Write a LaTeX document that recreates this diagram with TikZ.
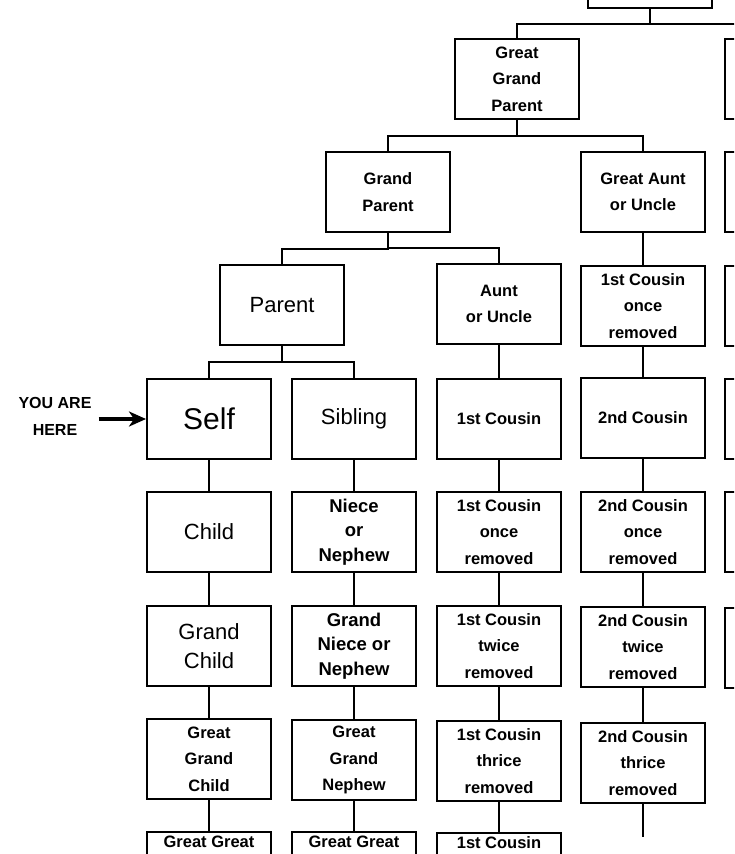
\documentclass[tikz,border=0pt]{standalone}
\usepackage{fontspec}
\setmainfont{Liberation Sans}
\usetikzlibrary{arrows.meta, calc}

\newcommand{\lblfont}{\fontsize{16.5}{26.5}\selectfont\bfseries}
\newcommand{\nephfont}{\fontsize{18.5}{24.5}\selectfont\bfseries}
\newcommand{\bigfont}{\fontsize{22}{29}\selectfont}
\newcommand{\selffont}{\fontsize{30}{36}\selectfont}

\begin{document}
\begin{tikzpicture}[x=1pt, y=-1pt, >=Stealth,
    box/.style={draw, line width=2pt, minimum width=124pt, minimum height=80pt,
        inner sep=0pt, align=center, font=\lblfont},
    link/.style={line width=2pt,
        to path={(\tikztostart) |- ($(\tikztostart)!.5!(\tikztotarget)$) -| (\tikztotarget)}}]

\useasboundingbox (0,0) rectangle (734,854);
\clip (0,0) rectangle (734,854);

% === Fila 0: caja superior (cortada) ===
\node[box] (gggp) at (650,-32) {\strut\\\strut\\\raisebox{5pt}{Parent}};

% === Fila 1 ===
\node[box] (ggp) at (517,79) {Great\\Grand\\Parent};
\node[box] (ggau) at (787,79) {};

% === Fila 2 ===
\node[box] (gp) at (388,192) {Grand\\Parent};
\node[box] (gau) at (643,192) {Great Aunt\\or Uncle};
\node[box] (fc2u) at (787,192) {};

% === Fila 3 ===
\node[box, font=\bigfont] (par) at (282,305) {Parent};
\node[box] (au) at (499,304) {Aunt\\or Uncle};
\node[box] (fc1u) at (643,306) {1st Cousin\\once\\removed};
\node[box] (sc1u) at (787,306) {};

% === Fila 4 ===
\node[box, font=\selffont] (self) at (209,419) {Self};
\node[box, font=\bigfont] (sib) at (354,419) {Sibling};
\node[box] (fc) at (499,419) {1st Cousin};
\node[box] (sc) at (643,418) {2nd Cousin};
\node[box] (tc) at (787,419) {};

% === Fila 5 ===
\node[box, font=\bigfont] (child) at (209,532) {Child};
\node[box, font=\nephfont] (niece) at (354,532) {Niece\\or\\Nephew};
\node[box] (fc1d) at (499,532) {1st Cousin\\once\\removed};
\node[box] (sc1d) at (643,532) {2nd Cousin\\once\\removed};
\node[box] (tc1d) at (787,532) {};

% === Fila 6 ===
\node[box, font=\bigfont] (gch) at (209,646) {Grand\\Child};
\node[box, font=\nephfont] (gniece) at (354,646) {Grand\\Niece or\\Nephew};
\node[box] (fc2d) at (499,646) {1st Cousin\\twice\\removed};
\node[box] (sc2d) at (643,647) {2nd Cousin\\twice\\removed};
\node[box] (tc2d) at (787,648) {};

% === Fila 7 ===
\node[box] (ggch) at (209,759) {Great\\Grand\\Child};
\node[box] (ggneph) at (354,760) {Great\\Grand\\Nephew};
\node[box] (fc3d) at (499,761) {1st Cousin\\thrice\\removed};
\node[box] (sc3d) at (643,763) {2nd Cousin\\thrice\\removed};
\coordinate (tail) at (643,837);

% === Fila 8 (cortada abajo) ===
\node[box] (gggch) at (209,872) {Great Great\\\strut\\\strut};
\node[box] (gggneph) at (354,872) {Great Great\\\strut\\\strut};
\node[box] (fc4d) at (499,873) {1st Cousin\\\strut\\\strut};

% === Conexiones entre generaciones ===
\draw[link] (gggp.south) to (ggp.north);
\draw[link] (gggp.south) to (ggau.north);
\draw[link] (ggp.south) to (gp.north);
\draw[link] (ggp.south) to (gau.north);
\draw[link] (gp.south) to (par.north);
\draw[link] (gp.south) to (au.north);
\draw[link] (par.south) to (self.north);
\draw[link] (par.south) to (sib.north);

% Columna de Self
\draw[link] (self.south) to (child.north);
\draw[link] (child.south) to (gch.north);
\draw[link] (gch.south) to (ggch.north);
\draw[link] (ggch.south) to (gggch.north);

% Columna de Sibling
\draw[link] (sib.south) to (niece.north);
\draw[link] (niece.south) to (gniece.north);
\draw[link] (gniece.south) to (ggneph.north);
\draw[link] (ggneph.south) to (gggneph.north);

% Columna de Aunt or Uncle
\draw[link] (au.south) to (fc.north);
\draw[link] (fc.south) to (fc1d.north);
\draw[link] (fc1d.south) to (fc2d.north);
\draw[link] (fc2d.south) to (fc3d.north);
\draw[link] (fc3d.south) to (fc4d.north);

% Columna de Great Aunt or Uncle
\draw[link] (gau.south) to (fc1u.north);
\draw[link] (fc1u.south) to (sc.north);
\draw[link] (sc.south) to (sc1d.north);
\draw[link] (sc1d.south) to (sc2d.north);
\draw[link] (sc2d.south) to (sc3d.north);
\draw[line width=2pt] (sc3d.south) -- (tail);

% Columna derecha (casi fuera de la imagen)
\draw[link] (ggau.south) to (fc2u.north);
\draw[link] (fc2u.south) to (sc1u.north);
\draw[link] (sc1u.south) to (tc.north);
\draw[link] (tc.south) to (tc1d.north);
\draw[link] (tc1d.south) to (tc2d.north);

% === Marca "YOU ARE HERE" ===
\node[font=\fontsize{16}{27}\selectfont\bfseries, align=center, inner sep=0pt]
    (here) at (55,416) {YOU ARE\\HERE};
\draw[-{Stealth[length=17pt, width=15pt, inset=5pt]}, line width=3.4pt, shorten <=7pt]
    (here.east |- self.west) -- (self.west);

\end{tikzpicture}
\end{document}
